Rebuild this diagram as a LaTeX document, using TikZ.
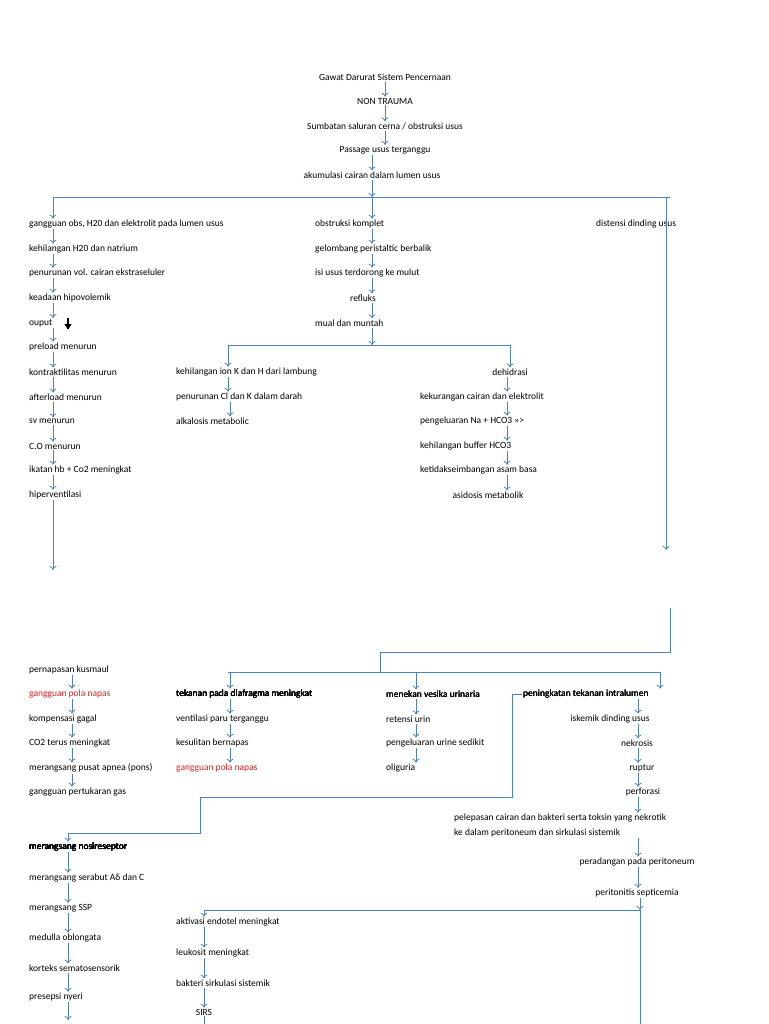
\documentclass[tikz,border=0pt]{standalone}
\usepackage{fontspec}
\setmainfont{Carlito}
\usetikzlibrary{arrows.meta}
\definecolor{ln}{RGB}{79,129,189}
\definecolor{rd}{RGB}{230,30,30}
\tikzset{
 t/.style={inner sep=1pt,anchor=west,font=\fontsize{9.5}{10}\selectfont},
 c/.style={inner sep=1pt,anchor=center,font=\fontsize{9.5}{10}\selectfont},
 red/.style={text=rd},
 arr/.style={draw=ln,line width=0.8pt,-{To[length=4pt,width=7pt]}},
 ln/.style={draw=ln,line width=0.8pt}
}
\newcommand\flow[3]{\draw[arr] (#1.south -| #3,0) -- (#2.north -| #3,0);}
\begin{document}
\begin{tikzpicture}[x=1pt,y=-1pt]
\useasboundingbox (0,0) rectangle (768,1024);
% top
\node[c] (g1) at (385,77) {Gawat Darurat Sistem Pencernaan};
\node[c] (g2) at (385,101) {NON TRAUMA};
\node[c] (g3) at (385,126) {Sumbatan saluran cerna / obstruksi usus};
\node[c] (g4) at (385,150) {Passage usus terganggu};
\node[c] (g5) at (372,175) {akumulasi cairan dalam lumen usus};
\flow{g1}{g2}{385}\flow{g2}{g3}{385}\flow{g3}{g4}{385}\flow{g4}{g5}{372}
\coordinate (b1) at (372,197);
\draw[arr] (g5.south -| b1) -- (b1);
\draw[ln] (53,197) -- (670,197);
% left column
\foreach \n/\y/\s in {l1/224/{gangguan obs, H20 dan elektrolit pada lumen usus},l2/249/{kehilangan H20 dan natrium},l3/273/{penurunan vol. cairan ekstraseluler},l4/298/{keadaan hipovolemik},l5/323/{ouput},l6/347/{preload menurun},l7/372/{kontraktilitas menurun},l8/397/{afterload menurun},l9/421/{sv menurun},l10/446/{C.O menurun},l11/470/{ikatan hb + Co2 meningkat},l12/495/{hiperventilasi}}
 \node[t] (\n) at (28,\y) {\s};
\draw[arr] (53,197) -- (l1.north -| 53,0);
\foreach \a/\b in {l1/l2,l2/l3,l3/l4,l4/l5,l5/l6,l6/l7,l7/l8,l8/l9,l9/l10,l10/l11,l11/l12}
 \flow{\a}{\b}{53}
\draw[-{Triangle[length=5pt,width=6pt]},line width=1.2pt] (68,318) -- (68,329);
\coordinate (e1) at (53,570);
\draw[arr] (l12.south -| e1) -- (e1);
% middle
\node[t] (m1) at (314,224) {obstruksi komplet};
\node[t] (m2) at (314,249) {gelombang peristaltic berbalik};
\node[t] (m3) at (314,273) {isi usus terdorong ke mulut};
\node[c] (m4) at (363,298) {refluks};
\node[t] (m5) at (314,323) {mual dan muntah};
\draw[arr] (372,197) -- (m1.north -| 372,0);
\flow{m1}{m2}{372}\flow{m2}{m3}{372}\flow{m3}{m4}{372}\flow{m4}{m5}{372}
\coordinate (b2) at (372,345);
\draw[arr] (m5.south -| b2) -- (b2);
\draw[ln] (228,345) -- (510,345);
\node[t] (k1) at (175,372) {kehilangan ion K dan H dari lambung};
\node[t] (k2) at (175,397) {penurunan Cl dan K dalam darah};
\node[t] (k3) at (175,421) {alkalosis metabolic};
\draw[arr] (228,345) -- (k1.north -| 228,0);
\flow{k1}{k2}{228}\flow{k2}{k3}{230}
\node[c] (d0) at (510,372) {dehidrasi};
\node[t] (d1) at (419,397) {kekurangan cairan dan elektrolit};
\node[t] (d2) at (419,421) {pengeluaran Na + HCO3 >>>};
\node[t] (d3) at (419,446) {kehilangan buffer HCO3};
\node[t] (d4) at (419,470) {ketidakseimbangan asam basa};
\node[c] (d5) at (488,495) {asidosis metabolik};
\draw[arr] (510,345) -- (d0.north -| 510,0);
\flow{d0}{d1}{507}\flow{d1}{d2}{507}\flow{d2}{d3}{507}\flow{d3}{d4}{507}\flow{d4}{d5}{507}
% right
\node[t] (r1) at (595,224) {distensi dinding usus};
\coordinate (e2) at (666,550);
\draw[arr] (666,197) -- (e2);
% second part
\coordinate (s0) at (670,608);
\draw[ln] (s0) -- (670,652) -- (380,652) -- (380,672);
\draw[ln] (228,672) -- (660,672);
\node[t] (p1) at (28,670) {pernapasan kusmaul};
\node[t,red] (p2) at (28,694) {gangguan pola napas};
\node[t] (p3) at (28,719) {kompensasi gagal};
\node[t] (p4) at (28,743) {CO2 terus meningkat};
\node[t] (p5) at (28,768) {merangsang pusat apnea (pons)};
\node[t] (p6) at (28,792) {gangguan pertukaran gas};
\foreach \a/\b in {p1/p2,p2/p3,p3/p4,p4/p5,p5/p6} \flow{\a}{\b}{72}
\node[t] (q1) at (175,694) {tekanan pada diafragma meningkat};
\node[t] (q2) at (175,719) {ventilasi paru terganggu};
\node[t] (q3) at (175,743) {kesulitan bernapas};
\node[t,red] (q4) at (175,768) {gangguan pola napas};
\draw[arr] (230,672) -- (q1.north -| 230,0);
\foreach \a/\b in {q1/q2,q2/q3,q3/q4} \flow{\a}{\b}{230}
\node[t] (u1) at (385,694) {menekan vesika urinaria};
\node[t] (u2) at (385,719) {retensi urin};
\node[t] (u3) at (385,743) {pengeluaran urine sedikit};
\node[t] (u4) at (385,768) {oliguria};
\draw[arr] (416,672) -- (u1.north -| 416,0);
\foreach \a/\b in {u1/u2,u2/u3,u3/u4} \flow{\a}{\b}{416}
\node[t] (v1) at (522,694) {peningkatan tekanan intralumen};
\node[c] (v2) at (610,719) {iskemik dinding usus};
\node[c] (v3) at (637,743) {nekrosis};
\node[c] (v4) at (642,768) {ruptur};
\node[c] (v5) at (643,792) {perforasi};
\node[t] (v6) at (453,818) {pelepasan cairan dan bakteri serta toksin yang nekrotik};
\node[t] (v7) at (453,833) {ke dalam peritoneum dan sirkulasi sistemik};
\node[c] (v8) at (637,862) {peradangan pada peritoneum};
\node[c] (v9) at (637,893) {peritonitis septicemia};
\draw[arr] (660,672) -- (v1.north -| 660,0);
\foreach \a/\b in {v1/v2,v2/v3,v3/v4,v4/v5,v5/v6,v7/v8,v8/v9} \flow{\a}{\b}{638}
% lower left
\node[t] (n1) at (28,847) {merangsang nosireseptor};
\node[t] (n2) at (28,878) {merangsang serabut Aδ dan C};
\node[t] (n3) at (28,908) {merangsang SSP};
\node[t] (n4) at (28,938) {medulla oblongata};
\node[t] (n5) at (28,968) {korteks sematosensorik};
\node[t] (n6) at (28,997) {presepsi nyeri};
\draw[ln] (v1.west) -- (512,694) -- (512,797) -- (200,797) -- (200,833) -- (68,833);
\draw[arr] (68,833) -- (n1.north -| 68,0);
\foreach \a/\b in {n1/n2,n2/n3,n3/n4,n4/n5,n5/n6} \flow{\a}{\b}{68}
\coordinate (e3) at (68,1020);
\draw[arr] (n6.south -| e3) -- (e3);
% lower middle
\node[t] (w1) at (175,922) {aktivasi endotel meningkat};
\node[t] (w2) at (175,953) {leukosit meningkat};
\node[t] (w3) at (175,983) {bakteri sirkulasi sistemik};
\node[c] (w4) at (204,1012) {SIRS};
\coordinate (b3) at (640,910);
\draw[arr] (v9.south -| b3) -- (b3);
\draw[ln] (640,910) -- (204,910);
\draw[arr] (204,910) -- (w1.north -| 204,0);
\foreach \a/\b in {w1/w2,w2/w3,w3/w4} \flow{\a}{\b}{204}
\coordinate (e4) at (204,1024);
\draw[ln] (w4.south) -- (e4);
\coordinate (e5) at (640,1024);
\draw[ln] (b3) -- (e5);
\end{tikzpicture}
\end{document}
